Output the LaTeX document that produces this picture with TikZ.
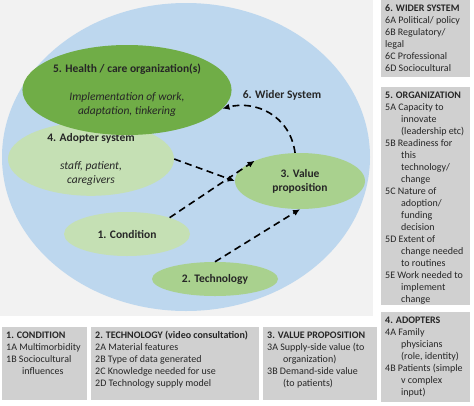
\documentclass[tikz,border=0pt]{standalone}
\usepackage{fontspec}
\setmainfont{Carlito}
\usepackage{xcolor}
\usepackage{tikz}
\usetikzlibrary{arrows.meta,shapes.geometric,positioning}
\definecolor{sysBlue}{HTML}{BDD7EE}
\definecolor{orgGreen}{HTML}{70AD47}
\definecolor{midGreen}{HTML}{A9D18E}
\definecolor{paleGreen}{HTML}{C5E0B4}
\definecolor{boxGray}{HTML}{D0D0D0}
\definecolor{panelGray}{HTML}{F2F2F2}
\definecolor{txt}{HTML}{262626}
\tikzstyle{areaEllipse} = [ellipse, inner sep=0pt, align=center, text=txt,
	font=\fontsize{11.5}{14}\selectfont\bfseries]
\tikzstyle{dashArrow} = [line width=1.6pt, dash pattern=on 7pt off 4.5pt,
	-{Latex[length=7pt,width=6.5pt]}]
\tikzstyle{infoBox} = [rectangle, fill=boxGray, anchor=north west, inner xsep=4pt, inner ysep=3pt,
	text=txt, font=\fontsize{10}{12}\selectfont]
\newcommand{\ind}{\hspace*{16pt}}
\newcommand{\sub}[1]{{\normalfont\itshape #1}}
% Kasteninhalt: Hoehe, Breite, Zeilen
\newcommand{\boxlines}[3]{\parbox[t][#1][t]{#2}{\begin{tabular}[t]{@{}l@{}}#3\end{tabular}}}

\begin{document}
\begin{tikzpicture}[x=1pt,y=-1pt]
		\useasboundingbox (0,0) rectangle (474,405);
		\fill[panelGray] (0,0) rectangle (373,316);	% Hintergrund
		\node[ellipse, fill=sysBlue, minimum width=368pt, minimum height=308pt] (sys) at (186,157) {};	% System
		\node[areaEllipse, fill=paleGreen, minimum width=166pt, minimum height=68pt] (adopter) at (91,159) {4. Adopter system\\[14pt]\sub{staff, patient,}\\\sub{caregivers}};
		\node[areaEllipse, fill=orgGreen, minimum width=182pt, minimum height=90pt] (health) at (127,90) {5. Health / care organization(s)\\[14pt]\sub{Implementation of work,}\\\sub{adaptation, tinkering}};
		\node[areaEllipse, fill=midGreen, minimum width=130pt, minimum height=56pt] (value) at (300,181) {3. Value\\proposition};
		\node[areaEllipse, fill=paleGreen, minimum width=126pt, minimum height=44pt] (condition) at (127,234) {1. Condition};
		\node[areaEllipse, fill=midGreen, minimum width=126pt, minimum height=34pt] (technology) at (215,279) {2. Technology};
		\node[text=txt, font=\fontsize{11.5}{14}\selectfont\bfseries] (wider) at (282,95) {6. Wider System};
		
		% Pfeile
		\draw[dashArrow] (adopter.east) -- (value.west);
		\draw[dashArrow] (condition.21) -- (value.156);
		\draw[dashArrow] (technology.north) -- (value.south);
		\draw[dashArrow] (value.100) .. controls (290,115) and (255,100) .. (health.-11);
		
		% Kaesten rechts
		\node[infoBox] (wider-box) at (381,0) {\boxlines{71pt}{81pt}{\textbf{6. WIDER SYSTEM}\\6A Political/ policy\\6B Regulatory/\\legal\\6C Professional\\6D Sociocultural}};
		\node[infoBox] (org-box) at (381,87) {\boxlines{212pt}{81pt}{\textbf{5. ORGANIZATION}\\5A Capacity to\\\ind innovate\\\ind (leadership etc)\\5B Readiness for\\\ind this\\\ind technology/\\\ind change\\5C Nature of\\\ind adoption/\\\ind funding\\\ind decision\\5D Extent of\\\ind change needed\\\ind to routines\\5E Work needed to\\\ind implement\\\ind change}};
		\node[infoBox] (adopter-box) at (381,312) {\boxlines{84pt}{81pt}{\textbf{4. ADOPTERS}\\4A Family\\\ind physicians\\\ind (role, identity)\\4B Patients (simple\\\ind v complex\\\ind input)}};
		
		% Kaesten unten
		\node[infoBox] (condition-box) at (2,327) {\boxlines{67pt}{77pt}{\textbf{1. CONDITION}\\1A Multimorbidity\\1B Sociocultural\\\ind influences}};
		\node[infoBox] (technology-box) at (91,327) {\boxlines{67pt}{160pt}{\textbf{2. TECHNOLOGY (video consultation)}\\2A Material features\\2B Type of data generated\\2C Knowledge needed for use\\2D Technology supply model}};
		\node[infoBox] (value-box) at (263,327) {\boxlines{67pt}{106pt}{\textbf{3. VALUE PROPOSITION}\\3A Supply-side value (to\\\ind organization)\\3B Demand-side value\\\ind (to patients)}};
\end{tikzpicture}
\end{document}
